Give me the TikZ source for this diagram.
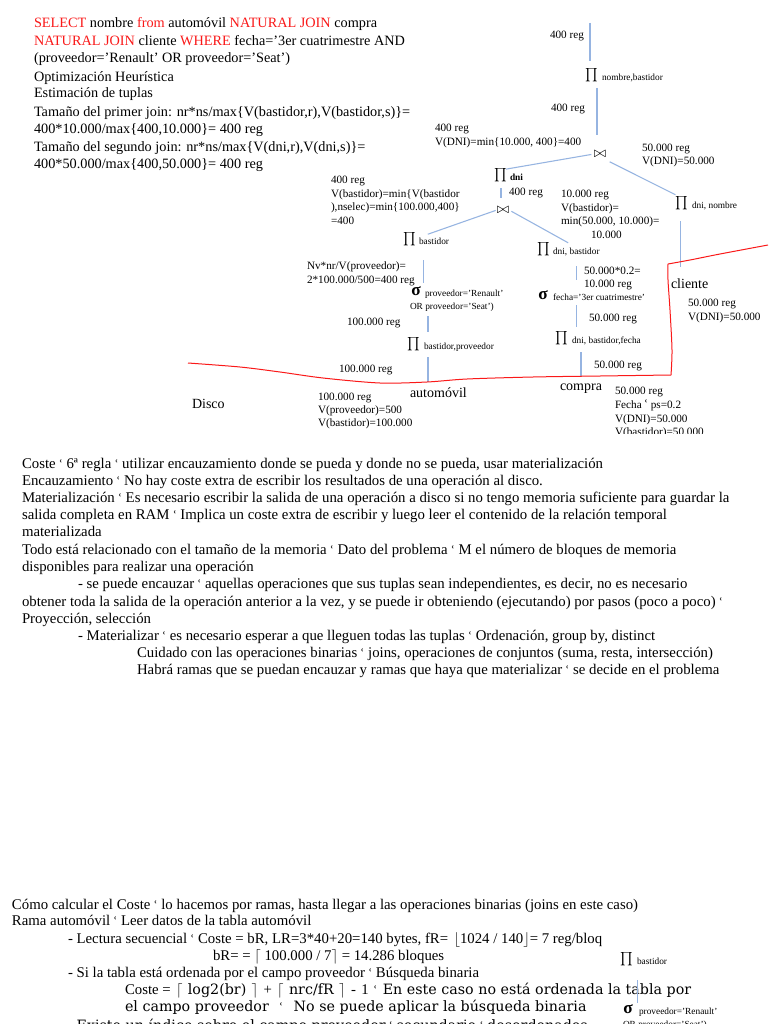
\documentclass[tikz,border=0pt]{standalone}
\usepackage{fontspec}
\setmainfont{Liberation Serif}
\newfontfamily\symfont{DejaVu Sans}
\newfontfamily\anchafont{DejaVu Serif}
\usetikzlibrary{positioning}
\definecolor{rama}{RGB}{150,180,225}
\definecolor{rojo}{RGB}{250,25,25}
\newcommand{\flecha}{{\symfont\fontsize{8.5}{9}\selectfont ʿ}}
\newcommand{\gr}[1]{{\anchafont\fontsize{10.7}{12}\selectfont #1}}
\newcommand{\hueco}{\hspace{4pt}}

\begin{document}
\begin{tikzpicture}[
    x=0.75pt, y=-0.75pt,
    every node/.style={inner sep=0pt, outer sep=0pt},
    texto/.style={anchor=base west, font=\fontsize{10.7}{12}\selectfont},
    nota/.style={anchor=base west, font=\fontsize{11.1}{12}\selectfont},
    reg/.style={anchor=base west, font=\fontsize{8.4}{10}\selectfont},
    sub/.style={anchor=base west, font=\fontsize{7}{8}\selectfont, text height=5pt, text depth=1.5pt},
    op/.style={font=\fontsize{10.5}{11}\selectfont, text height=6.75pt, text depth=2.25pt},
    junta/.style={font=\fontsize{11}{12}\selectfont},
    sel/.style={font=\fontsize{13}{14}\selectfont\bfseries},
    rel/.style={anchor=base west, font=\fontsize{10.5}{12}\selectfont, text height=7pt},
    rama/.style={draw=rama, line width=0.8pt},
    corte/.style={draw=rojo, line width=0.75pt}
]
\useasboundingbox (0,0) rectangle (768,1024);
\fill[white] (0,0) rectangle (768,1024);

% consulta
\node[texto] (q1) at (34,28) {\textcolor{rojo}{SELECT} nombre \textcolor{rojo}{from} automóvil \textcolor{rojo}{NATURAL JOIN} compra};
\node[texto] (q2) at (34,46) {\textcolor{rojo}{NATURAL JOIN} cliente \textcolor{rojo}{WHERE} fecha=’3er cuatrimestre AND};
\node[texto] (q3) at (34,63) {(proveedor=’Renault’ OR proveedor=’Seat’)};
\node[texto] (q4) at (34,81) {Optimización Heurística};
\node[texto] (q5) at (34,98) {Estimación de tuplas};
\node[texto] (q6) at (34,116) {Tamaño del primer join: nr*ns/max\{V(bastidor,r),V(bastidor,s)\}=};
\node[texto] (q7) at (34,133) {400*10.000/max\{400,10.000\}= 400 reg};
\node[texto] (q8) at (34,151) {Tamaño del segundo join: nr*ns/max\{V(dni,r),V(dni,s)\}=};
\node[texto] (q9) at (34,168) {400*50.000/max\{400,50.000\}= 400 reg};

% arbol
\coordinate (raiz) at (590,23);
\node[reg] (r1) at (550,39) {400 reg};
\node[op] (pnb) at (592,76) {$\prod$};
\node[sub] (pnbs) at (602,80) {nombre,bastidor};
\node[reg] (r2) at (551,111) {400 reg};
\node[reg] (r3) at (435,131) {400 reg};
\node[reg] (r3b) at (435,145) {V(DNI)=min\{10.000, 400\}=400};
\node[op, junta] (j1) at (600,154) {$\bowtie$};
\node[reg] (r4) at (642,151) {50.000 reg};
\node[reg] (r4b) at (642,164) {V(DNI)=50.000};
\node[op] (pdni) at (501,176) {$\prod$};
\node[sub] (pdnis) at (510,180) {\textbf{dni}};
\node[reg] (r5) at (509,195) {400 reg};
\node[reg] (r6) at (331,183) {400 reg};
\node[reg] (r6b) at (331,197) {V(bastidor)=min\{V(bastidor};
\node[reg] (r6c) at (331,210) {),nselec)=min\{100.000,400\}};
\node[reg] (r6d) at (331,224) {=400};
\node[op, junta] (j2) at (503,210) {$\bowtie$};
\node[reg] (r7) at (561,197) {10.000 reg};
\node[reg] (r7b) at (561,211) {V(bastidor)=};
\node[reg] (r7c) at (561,224) {min(50.000, 10.000)=};
\node[reg] (r7d) at (591,238) {10.000};
\node[op] (pbast) at (410,240) {$\prod$};
\node[sub] (pbasts) at (419,244) {bastidor};
\node[op] (pdb) at (544,250) {$\prod$};
\node[sub] (pdbs) at (553,254) {dni, bastidor};
\node[op] (pdn) at (682,204) {$\prod$};
\node[sub] (pdns) at (692,208) {dni, nombre};
\node[rel] (cliente) at (671,288) {cliente};
\node[reg] (r8) at (688,306) {50.000 reg};
\node[reg] (r8b) at (688,320) {V(DNI)=50.000};

% rama automovil
\node[reg] (r9) at (307,269) {Nv*nr/V(proveedor)=};
\node[reg] (r9b) at (307,283) {2*100.000/500=400 reg};
\node[op, sel] (sprov) at (416,292) {σ};
\node[sub] (sprovs) at (425,296) {proveedor=’Renault’};
\node[sub] (sprovor) at (410,309) {OR proveedor=’Seat’)};
\node[reg] (r10) at (347,325) {100.000 reg};
\node[op] (pbp) at (414,345) {$\prod$};
\node[sub] (pbps) at (424,349) {bastidor,proveedor};
\node[reg] (r11) at (339,372) {100.000 reg};
\node[rel] (auto) at (410,397) {automóvil};
\node[rel] (disco) at (192,408) {Disco};
\node[reg] (r12) at (318,400) {100.000 reg};
\node[reg] (r12b) at (318,413) {V(proveedor)=500};
\node[reg] (r12c) at (318,426) {V(bastidor)=100.000};

% rama compra
\node[reg] (r13) at (584,274) {50.000*0.2=};
\node[reg] (r13b) at (584,287) {10.000 reg};
\node[op, sel] (sfecha) at (543,296) {σ};
\node[sub] (sfechas) at (553,300) {fecha=’3er cuatrimestre’};
\node[reg] (r14) at (589,321) {50.000 reg};
\node[op] (pdbf) at (562,339) {$\prod$};
\node[sub] (pdbfs) at (572,343) {dni, bastidor,fecha};
\node[reg] (r15) at (594,368) {50.000 reg};
\node[rel] (compra) at (560,390) {compra};
\begin{scope}
\clip (600,380) rectangle (768,433);
\node[reg] (r16) at (615,394) {50.000 reg};
\node[reg] (r16b) at (615,408) {Fecha \flecha{} ps=0.2};
\node[reg] (r16c) at (615,422) {V(DNI)=50.000};
\node[reg] (r16d) at (615,435) {V(bastidor)=50.000};
\end{scope}

\draw[rama, shorten >=7pt] (raiz) -- (raiz |- pnb.north);
\draw[rama, shorten <=4.5pt, shorten >=9.75pt] ([xshift=3.75pt]pnb.south) -- ([xshift=3.75pt]pnb.south |- j1.north);
\draw[rama, shorten <=2pt, shorten >=3.75pt] (j1.west) -- (pdni.north);
\draw[rama, shorten <=3pt, shorten >=5.5pt] (j1.south east) -- (pdn.north);
\draw[rama, shorten <=4.5pt, shorten >=4.5pt] (pdni.south) -- (pdni.south |- j2.north);
\draw[rama, shorten <=1pt, shorten >=7pt] (j2.west) -- (pbasts.north west);
\draw[rama, shorten <=2pt, shorten >=7pt] (j2.east) -- (pdbs.north);
\draw[rama, shorten <=8.25pt, shorten >=8.8pt] ([xshift=-1pt]pdn.south) -- ([xshift=-1pt]pdn.south |- cliente.north);
\draw[rama, shorten <=7.5pt, shorten >=10pt] (pdbs.south) -- (pdbs.south |- sfechas.north);
\draw[rama, shorten <=2.3pt, shorten >=4.5pt] (pdbs.south |- sfechas.south) -- (pdbs.south |- pdbf.north);
\draw[rama, shorten <=5.25pt, shorten >=3.5pt] (compra.north |- pdbf.south) -- (compra.north);
\draw[rama, shorten <=10.5pt, shorten >=2.25pt] ([xshift=10pt]pbast.south) -- ([xshift=10pt]pbast.south |- sprov.north);
\draw[rama, shorten <=3.75pt, shorten >=5.25pt] ([xshift=10.5pt]pbp.north |- sprovor.south) -- ([xshift=10.5pt]pbp.north);
\draw[rama, shorten <=4.5pt, shorten >=4.3pt] ([xshift=10.5pt]pbp.south) -- ([xshift=10.5pt]pbp.south |- auto.north);

% limite memoria / disco
\draw[corte] plot[smooth] coordinates {(188,363) (240,367) (280,372) (323,378) (380,383) (427,382) (467,379) (533,377) (600,376) (671,375)};
\draw[corte] plot[smooth] coordinates {(671,375) (672,350) (670,310) (668,280) (668,264)};
\draw[corte] plot[smooth] coordinates {(668,264) (690,260) (720,254) (768,245)};

% coste
\node[nota] (m1) at (22,468) {Coste \flecha{} 6ª regla \flecha{} utilizar encauzamiento donde se pueda y donde no se pueda, usar materialización};
\node[nota] (m2) at (22,485) {Encauzamiento \flecha{} No hay coste extra de escribir los resultados de una operación al disco.};
\node[nota] (m3) at (22,502) {Materialización \flecha{} Es necesario escribir la salida de una operación a disco si no tengo memoria suficiente para guardar la};
\node[nota] (m4) at (22,519) {salida completa en RAM \flecha{} Implica un coste extra de escribir y luego leer el contenido de la relación temporal};
\node[nota] (m5) at (22,536) {materializada};
\node[nota] (m6) at (22,554) {Todo está relacionado con el tamaño de la memoria \flecha{} Dato del problema \flecha{} M el número de bloques de memoria};
\node[nota] (m7) at (22,571) {disponibles para realizar una operación};
\node[nota] (m8) at (78,588) {- se puede encauzar \flecha{} aquellas operaciones que sus tuplas sean independientes, es decir, no es necesario};
\node[nota] (m9) at (22,606) {obtener toda la salida de la operación anterior a la vez, y se puede ir obteniendo (ejecutando) por pasos (poco a poco) \flecha};
\node[nota] (m10) at (22,623) {Proyección, selección};
\node[nota] (m11) at (78,640) {- Materializar \flecha{} es necesario esperar a que lleguen todas las tuplas \flecha{} Ordenación, group by, distinct};
\node[nota] (m12) at (137,657) {Cuidado con las operaciones binarias \flecha{} joins, operaciones de conjuntos (suma, resta, intersección)};
\node[nota] (m13) at (137,674) {Habrá ramas que se puedan encauzar y ramas que haya que materializar \flecha{} se decide en el problema};

% calculo por ramas
\node[nota] (b1) at (12,909) {Cómo calcular el Coste \flecha{} lo hacemos por ramas, hasta llegar a las operaciones binarias (joins en este caso)};
\node[nota] (b2) at (12,925) {Rama automóvil \flecha{} Leer datos de la tabla automóvil};
\node[nota] (b3) at (68,943) {- Lectura secuencial \flecha{} Coste = bR, LR=3*40+20=140 bytes, fR=\hueco$\lfloor$1024 / 140$\rfloor$= 7 reg/bloq};
\node[nota] (b4) at (213,960) {bR= = $\lceil$ 100.000 / 7$\rceil$ = 14.286 bloques};
\node[nota] (b5) at (68,977) {- Si la tabla está ordenada por el campo proveedor \flecha{} Búsqueda binaria};
\node[nota] (b6) at (125,994) {Coste =\hueco$\lceil$\hueco\gr{log2(br)}\hueco$\rceil$\hueco+\hueco$\lceil$\hueco\gr{nrc/fR}\hueco$\rceil$\hueco-\hueco1\hueco\flecha\hueco\gr{En este caso no está ordenada la tabla por}};
\node[nota] (b7) at (125,1011) {\gr{el campo proveedor}\hspace{8pt}\flecha\hspace{8pt}\gr{No se puede aplicar la búsqueda binaria}};
\node[nota] (b8) at (68,1030) {- \gr{Existe un índice sobre el campo proveedor} \flecha{} \gr{secundario} \flecha{} \gr{desordenados}};

\node[op] (pbast2) at (627,960) {$\prod$};
\node[sub] (pbast2s) at (637,964) {bastidor};
\node[op, sel] (sprov2) at (628,1010) {σ};
\node[sub] (sprov2s) at (639,1014) {proveedor=’Renault’};
\node[sub] (sprov2or) at (623,1027) {OR proveedor=’Seat’)};
\draw[rama, shorten <=10.5pt, shorten >=0.75pt] ([xshift=8pt]pbast2.south) -- ([xshift=8pt]pbast2.south |- sprov2.north);
\end{tikzpicture}
\end{document}
